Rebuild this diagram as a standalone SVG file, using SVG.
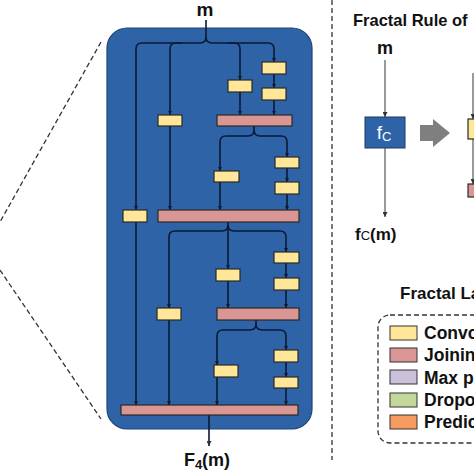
<svg xmlns="http://www.w3.org/2000/svg" width="474" height="474" viewBox="0 0 474 474">
<style>
.t{font-family:"Liberation Sans",Arial,sans-serif;font-weight:bold;fill:#111}
.c{fill:#ffe699;stroke:#2a2a22;stroke-width:1.2}
.j{fill:#d99694;stroke:#2a2a22;stroke-width:1.2}
.w{fill:none;stroke:#0b1a36;stroke-width:1.6}
.g{fill:none;stroke:#6f6f6f;stroke-width:1.4}
.d{fill:none;stroke:#333;stroke-width:1.3;stroke-dasharray:5,3}
</style>
<defs>
<marker id="a" viewBox="0 0 6 6" refX="6" refY="3" markerWidth="4" markerHeight="4" orient="auto" markerUnits="userSpaceOnUse"><path d="M0,0 L6,3 L0,6 z" fill="#0b1a36"/></marker>
<marker id="ag" viewBox="0 0 6 6" refX="6" refY="3" markerWidth="5" markerHeight="5" orient="auto" markerUnits="userSpaceOnUse"><path d="M0,0 L6,3 L0,6 z" fill="#333"/></marker>
</defs>
<g id="zoom-lines">
<path class="d" d="M101,42 L0,222"/>
<path class="d" d="M0,270 L101,419"/>
<path class="d" d="M332,0 V460"/>
</g>
<g id="frame"><rect x="107" y="28" width="205" height="401" rx="20" fill="#2e63a7" stroke="#1f4476" stroke-width="1.2"/></g>
<g id="connectors">
<path class="w" d="M206,20 V37 Q206,43 200,43 H142 Q136,43 136,49 V210" marker-end="url(#a)"/>
<path class="w" d="M206,37 Q206,43 212,43 H268 Q274,43 274,49 V62" marker-end="url(#a)"/>
<path class="w" d="M182,43 H176 Q170,43 170,49 V115" marker-end="url(#a)"/>
<path class="w" d="M228,43 H234 Q240,43 240,49 V80" marker-end="url(#a)"/>
<path class="w" d="M136,222 V405" marker-end="url(#a)"/>
<path class="w" d="M170,126 V210" marker-end="url(#a)"/>
<path class="w" d="M240,92 V115" marker-end="url(#a)"/>
<path class="w" d="M274,74 V88" marker-end="url(#a)"/>
<path class="w" d="M274,100 V115" marker-end="url(#a)"/>
<path class="w" d="M254,126 V130 Q254,136 248,136 H226 Q220,136 220,142 V171" marker-end="url(#a)"/>
<path class="w" d="M254,130 Q254,136 260,136 H281 Q287,136 287,142 V157" marker-end="url(#a)"/>
<path class="w" d="M220,182 V210" marker-end="url(#a)"/>
<path class="w" d="M287,168 V182" marker-end="url(#a)"/>
<path class="w" d="M287,194 V210" marker-end="url(#a)"/>
<path class="w" d="M228,222 V269" marker-end="url(#a)"/>
<path class="w" d="M228,225 Q228,231 222,231 H175 Q169,231 169,237 V308" marker-end="url(#a)"/>
<path class="w" d="M228,225 Q228,231 234,231 H280 Q286,231 286,237 V252" marker-end="url(#a)"/>
<path class="w" d="M228,281 V308" marker-end="url(#a)"/>
<path class="w" d="M286,263 V278" marker-end="url(#a)"/>
<path class="w" d="M286,290 V308" marker-end="url(#a)"/>
<path class="w" d="M169,320 V405" marker-end="url(#a)"/>
<path class="w" d="M256,320 V324 Q256,330 250,330 H223 Q217,330 217,336 V365" marker-end="url(#a)"/>
<path class="w" d="M256,324 Q256,330 262,330 H280 Q286,330 286,336 V350" marker-end="url(#a)"/>
<path class="w" d="M217,377 V405" marker-end="url(#a)"/>
<path class="w" d="M286,362 V377" marker-end="url(#a)"/>
<path class="w" d="M286,388 V405" marker-end="url(#a)"/>
<path class="w" d="M209,415 V446" stroke="#222" stroke-width="1.2" marker-end="url(#ag)"/>
<path class="g" d="M385,60 V117" marker-end="url(#ag)"/>
<path class="g" d="M385,148 V217" marker-end="url(#ag)"/>
<path class="g" d="M473,73 V119" marker-end="url(#ag)"/>
<path class="g" d="M473,139 V184" marker-end="url(#ag)"/>
</g>
<g id="conv1"><rect class="c" x="123" y="210" width="24" height="12"/></g>
<g id="conv2"><rect class="c" x="158" y="115" width="24" height="11"/></g>
<g id="conv3"><rect class="c" x="228" y="80" width="24" height="12"/></g>
<g id="conv4"><rect class="c" x="262" y="62" width="24" height="12"/></g>
<g id="conv5"><rect class="c" x="262" y="88" width="24" height="12"/></g>
<g id="join1"><rect class="j" x="217" y="115" width="75" height="11"/></g>
<g id="conv6"><rect class="c" x="214" y="171" width="25" height="11"/></g>
<g id="conv7"><rect class="c" x="275" y="157" width="24" height="11"/></g>
<g id="conv8"><rect class="c" x="275" y="182" width="24" height="12"/></g>
<g id="join2"><rect class="j" x="158" y="210" width="141" height="12"/></g>
<g id="conv9"><rect class="c" x="216" y="269" width="24" height="12"/></g>
<g id="conv10"><rect class="c" x="274" y="252" width="25" height="11"/></g>
<g id="conv11"><rect class="c" x="274" y="278" width="25" height="12"/></g>
<g id="conv12"><rect class="c" x="157" y="308" width="24" height="12"/></g>
<g id="join3"><rect class="j" x="217" y="308" width="82" height="12"/></g>
<g id="conv13"><rect class="c" x="214" y="365" width="24" height="12"/></g>
<g id="conv14"><rect class="c" x="274" y="350" width="24" height="12"/></g>
<g id="conv15"><rect class="c" x="274" y="377" width="24" height="11"/></g>
<g id="join4"><rect class="j" x="121" y="405" width="177" height="10"/></g>
<g id="labels">
<text class="t" x="205" y="16" font-size="19" text-anchor="middle">m</text>
<text class="t" x="207" y="466" font-size="18" text-anchor="middle">F<tspan font-size="13" dy="3">4</tspan><tspan dy="-3">(m)</tspan></text>
</g>
<g id="rule">
<text class="t" x="353" y="26" font-size="16.5">Fractal Rule of</text>
<text class="t" x="385" y="54" font-size="18" text-anchor="middle">m</text>
<g id="fc"><rect x="365" y="117" width="40" height="31" fill="#2e63a7" stroke="#1f3a60" stroke-width="1"/>
<text x="384" y="139" font-size="19" text-anchor="middle" fill="#fff" font-family="Liberation Sans,Arial,sans-serif">f<tspan font-size="13" dy="2">C</tspan></text></g>
<text class="t" x="355" y="240" font-size="17">f<tspan font-size="13" font-weight="normal">C</tspan>(m)</text>
<polygon points="420,125 433,125 433,119 450,133 433,147 433,141 420,141" fill="#7f7f7f"/>
<g id="rconv"><rect class="c" x="468" y="119" width="20" height="20"/></g>
<g id="rjoin"><rect class="j" x="468" y="184" width="20" height="13"/></g>
</g>
<g id="legend">
<text class="t" x="400" y="299" font-size="17">Fractal La</text>
<rect class="d" x="378" y="315" width="130" height="128" rx="12"/>
<rect x="390" y="326" width="27" height="14" fill="#ffe699" stroke="#333"/>
<rect x="390" y="348" width="27" height="14" fill="#d99694" stroke="#333"/>
<rect x="390" y="370" width="27" height="14" fill="#ccc1da" stroke="#333"/>
<rect x="390" y="393" width="27" height="14" fill="#c3d69b" stroke="#333"/>
<rect x="390" y="415" width="27" height="14" fill="#f79a5e" stroke="#333"/>
<text class="t" x="424" y="339" font-size="17.5">Convo</text>
<text class="t" x="424" y="361" font-size="17.5">Joining</text>
<text class="t" x="424" y="384" font-size="17.5">Max p</text>
<text class="t" x="424" y="406" font-size="17.5">Dropo</text>
<text class="t" x="424" y="428" font-size="17.5">Predic</text>
</g>
</svg>
